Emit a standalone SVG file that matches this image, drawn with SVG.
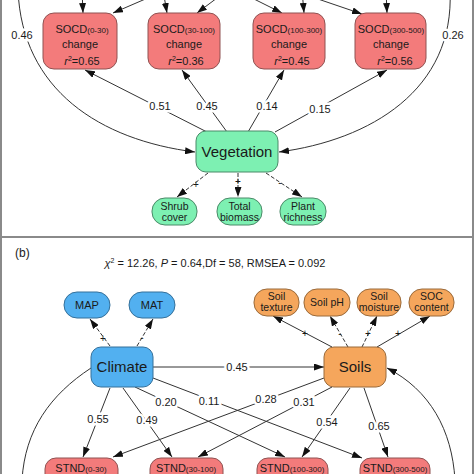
<svg xmlns="http://www.w3.org/2000/svg" width="474" height="474" viewBox="0 0 474 474">
<defs>
<marker id="ah" viewBox="0 0 10 7" refX="10" refY="3.5" markerWidth="10" markerHeight="7" markerUnits="userSpaceOnUse" orient="auto">
<path d="M0,0 L10,3.5 L0,7 z" fill="#111"/>
</marker>
<style>
text{font-family:"Liberation Sans",Arial,sans-serif;fill:#1a1a1a}
.c{fill:none;stroke:#333;stroke-width:1;marker-end:url(#ah)}
.d{fill:none;stroke:#333;stroke-width:1;stroke-dasharray:4,2;marker-end:url(#ah)}
.lab{font-size:11px;text-anchor:middle;dominant-baseline:central;stroke:#fff;stroke-width:5;paint-order:stroke}
.sg{font-size:10px;text-anchor:middle;dominant-baseline:central}
.red{fill:#f37b7b;stroke:#8f5252;stroke-width:1}
.grn{fill:#7df0b2;stroke:#4a8a68;stroke-width:1}
.blu{fill:#52b0f0;stroke:#35709a;stroke-width:1}
.org{fill:#f5a65c;stroke:#9a6a3a;stroke-width:1}
.t11{font-size:11px;text-anchor:middle}
.t10{font-size:10.5px;text-anchor:middle}
.t15{font-size:15px;text-anchor:middle}
.sub{font-size:8px}
</style>
</defs>
<rect width="474" height="474" fill="#fff"/>
<g id="frame" stroke="#8a8a8a" stroke-width="2">
<line x1="1" y1="0" x2="1" y2="474"/>
<line x1="473" y1="0" x2="473" y2="474"/>
<line x1="0" y1="237" x2="474" y2="237"/>
</g>
<g id="connectors">
<path class="c" d="M82,-10 L83,13"/>
<path class="c" d="M150,-3 L113,13"/>
<path class="c" d="M163,-10 L167,13"/>
<path class="c" d="M217,-2 L197,13"/>
<path class="c" d="M252,-2 L282,13"/>
<path class="c" d="M302,-10 L304,13"/>
<path class="c" d="M315,-2 L362,14"/>
<path class="c" d="M386,-10 L387,13"/>
<path class="c" d="M18,-10 C22,90 100,140 195,152"/>
<path class="c" d="M450,-10 C455,90 370,140 279,152"/>
<path class="c" d="M207,132 L85,70"/>
<path class="c" d="M227,132 L182,70"/>
<path class="c" d="M248,132 L284,70"/>
<path class="c" d="M275,132 L387,70"/>
<path class="d" d="M208,173 L177,197"/>
<path class="d" d="M238,173 L238,197"/>
<path class="d" d="M266,173 L302,197"/>
<path class="d" d="M110,346 L90,319"/>
<path class="d" d="M137,346 L153,319"/>
<path class="c" d="M332,347 L273,316"/>
<path class="d" d="M348,347 L330,316"/>
<path class="d" d="M362,347 L377,316"/>
<path class="c" d="M377,347 L430,316"/>
<path class="c" d="M153,367 L324,367"/>
<path class="c" d="M110,388 L83,457"/>
<path class="c" d="M123,388 L172,457"/>
<path class="c" d="M135,387 L285,457"/>
<path class="c" d="M153,378 L362,458"/>
<path class="c" d="M324,378 L113,457"/>
<path class="c" d="M332,387 L198,457"/>
<path class="c" d="M350,388 L302,457"/>
<path class="c" d="M364,388 L388,457"/>
<path fill="none" stroke="#333" d="M91,368 C50,395 25,430 22,480"/>
<path class="c" d="M455,480 C452,430 430,390 387,368"/>
<text class="lab" x="22" y="35">0.46</text>
<text class="lab" x="453" y="35">0.26</text>
<text class="lab" x="160" y="106">0.51</text>
<text class="lab" x="207" y="106">0.45</text>
<text class="lab" x="267" y="106">0.14</text>
<text class="lab" x="320" y="109">0.15</text>
<text class="sg" x="196" y="184">+</text>
<text class="sg" x="238" y="181">+</text>
<text class="sg" x="280" y="182">-</text>
<text class="sg" x="103" y="338">+</text>
<text class="sg" x="142" y="337">-</text>
<text class="sg" x="305" y="333">+</text>
<text class="sg" x="340" y="333">-</text>
<text class="sg" x="368" y="333">+</text>
<text class="sg" x="398" y="333">+</text>
<text class="lab" x="237" y="367">0.45</text>
<text class="lab" x="98" y="419">0.55</text>
<text class="lab" x="147" y="420">0.49</text>
<text class="lab" x="166" y="402">0.20</text>
<text class="lab" x="209" y="401">0.11</text>
<text class="lab" x="266" y="399">0.28</text>
<text class="lab" x="304" y="402">0.31</text>
<text class="lab" x="327" y="422">0.54</text>
<text class="lab" x="379" y="426">0.65</text>
</g>
<g id="socd0-30"><rect class="red" x="43" y="13" width="74" height="56" rx="11"/>
<text class="t11" x="82" y="33">SOCD<tspan class="sub">(0-30)</tspan></text>
<text class="t11" x="80" y="48">change</text>
<text class="t11" x="82" y="65"><tspan font-style="italic">r</tspan><tspan font-size="7" dy="-4">2</tspan><tspan dy="4">=0.65</tspan></text></g>
<g id="socd30-100"><rect class="red" x="148" y="13" width="72" height="56" rx="11"/>
<text class="t11" x="184" y="33">SOCD<tspan class="sub">(30-100)</tspan></text>
<text class="t11" x="184" y="48">change</text>
<text class="t11" x="186" y="65"><tspan font-style="italic">r</tspan><tspan font-size="7" dy="-4">2</tspan><tspan dy="4">=0.36</tspan></text></g>
<g id="socd100-300"><rect class="red" x="253" y="13" width="72" height="56" rx="11"/>
<text class="t11" x="289" y="33">SOCD<tspan class="sub">(100-300)</tspan></text>
<text class="t11" x="289" y="48">change</text>
<text class="t11" x="292" y="65"><tspan font-style="italic">r</tspan><tspan font-size="7" dy="-4">2</tspan><tspan dy="4">=0.45</tspan></text></g>
<g id="socd300-500"><rect class="red" x="355" y="13" width="71" height="56" rx="11"/>
<text class="t11" x="391" y="33">SOCD<tspan class="sub">(300-500)</tspan></text>
<text class="t11" x="391" y="48">change</text>
<text class="t11" x="395" y="65"><tspan font-style="italic">r</tspan><tspan font-size="7" dy="-4">2</tspan><tspan dy="4">=0.56</tspan></text></g>
<g id="vegetation"><rect class="grn" x="196" y="131" width="82" height="41" rx="10"/>
<text class="t15" x="237" y="157">Vegetation</text></g>
<g id="shrub"><rect class="grn" x="152" y="198" width="45" height="27" rx="13"/>
<text class="t10" x="174.5" y="210">Shrub</text><text class="t10" x="174.5" y="221">cover</text></g>
<g id="biomass"><rect class="grn" x="217" y="198" width="45" height="27" rx="13"/>
<text class="t10" x="239.5" y="210">Total</text><text class="t10" x="239.5" y="221">biomass</text></g>
<g id="richness"><rect class="grn" x="280" y="198" width="46" height="27" rx="13"/>
<text class="t10" x="303" y="210">Plant</text><text class="t10" x="303" y="221">richness</text></g>
<g id="header">
<text x="15" y="257" font-size="12">(b)</text>
<text x="215" y="267" font-size="11" text-anchor="middle"><tspan font-style="italic">χ</tspan><tspan font-size="7" dy="-4">2</tspan><tspan dy="4"> = 12.26, </tspan><tspan font-style="italic">P</tspan> = 0.64,Df = 58, RMSEA = 0.092</text>
</g>
<g id="map"><rect class="blu" x="64" y="292" width="46" height="26" rx="13"/>
<text class="t11" x="87" y="309">MAP</text></g>
<g id="mat"><rect class="blu" x="129" y="292" width="46" height="26" rx="13"/>
<text class="t11" x="152" y="309">MAT</text></g>
<g id="soiltexture"><rect class="org" x="254" y="289" width="45" height="27" rx="13"/>
<text class="t10" x="276.5" y="300">Soil</text><text class="t10" x="276.5" y="311">texture</text></g>
<g id="soilph"><rect class="org" x="304" y="289" width="46" height="27" rx="13"/>
<text class="t10" x="327" y="306">Soil pH</text></g>
<g id="soilmoisture"><rect class="org" x="357" y="289" width="44" height="27" rx="13"/>
<text class="t10" x="379" y="300">Soil</text><text class="t10" x="379" y="311">moisture</text></g>
<g id="soccontent"><rect class="org" x="409" y="289" width="45" height="27" rx="13"/>
<text class="t10" x="431.5" y="300">SOC</text><text class="t10" x="431.5" y="311">content</text></g>
<g id="climate"><rect class="blu" x="91" y="347" width="62" height="40" rx="10"/>
<text class="t15" x="122" y="372">Climate</text></g>
<g id="soils"><rect class="org" x="324" y="347" width="62" height="40" rx="10"/>
<text class="t15" x="355" y="372">Soils</text></g>
<g id="stnd0-30"><rect class="red" x="45" y="458" width="73" height="40" rx="11"/>
<text class="t11" x="81" y="472">STND<tspan class="sub">(0-30)</tspan></text></g>
<g id="stnd30-100"><rect class="red" x="150" y="458" width="73" height="40" rx="11"/>
<text class="t11" x="186" y="472">STND<tspan class="sub">(30-100)</tspan></text></g>
<g id="stnd100-300"><rect class="red" x="257" y="458" width="71" height="40" rx="11"/>
<text class="t11" x="292" y="472">STND<tspan class="sub">(100-300)</tspan></text></g>
<g id="stnd300-500"><rect class="red" x="360" y="458" width="70" height="40" rx="11"/>
<text class="t11" x="395" y="472">STND<tspan class="sub">(300-500)</tspan></text></g>
</svg>
